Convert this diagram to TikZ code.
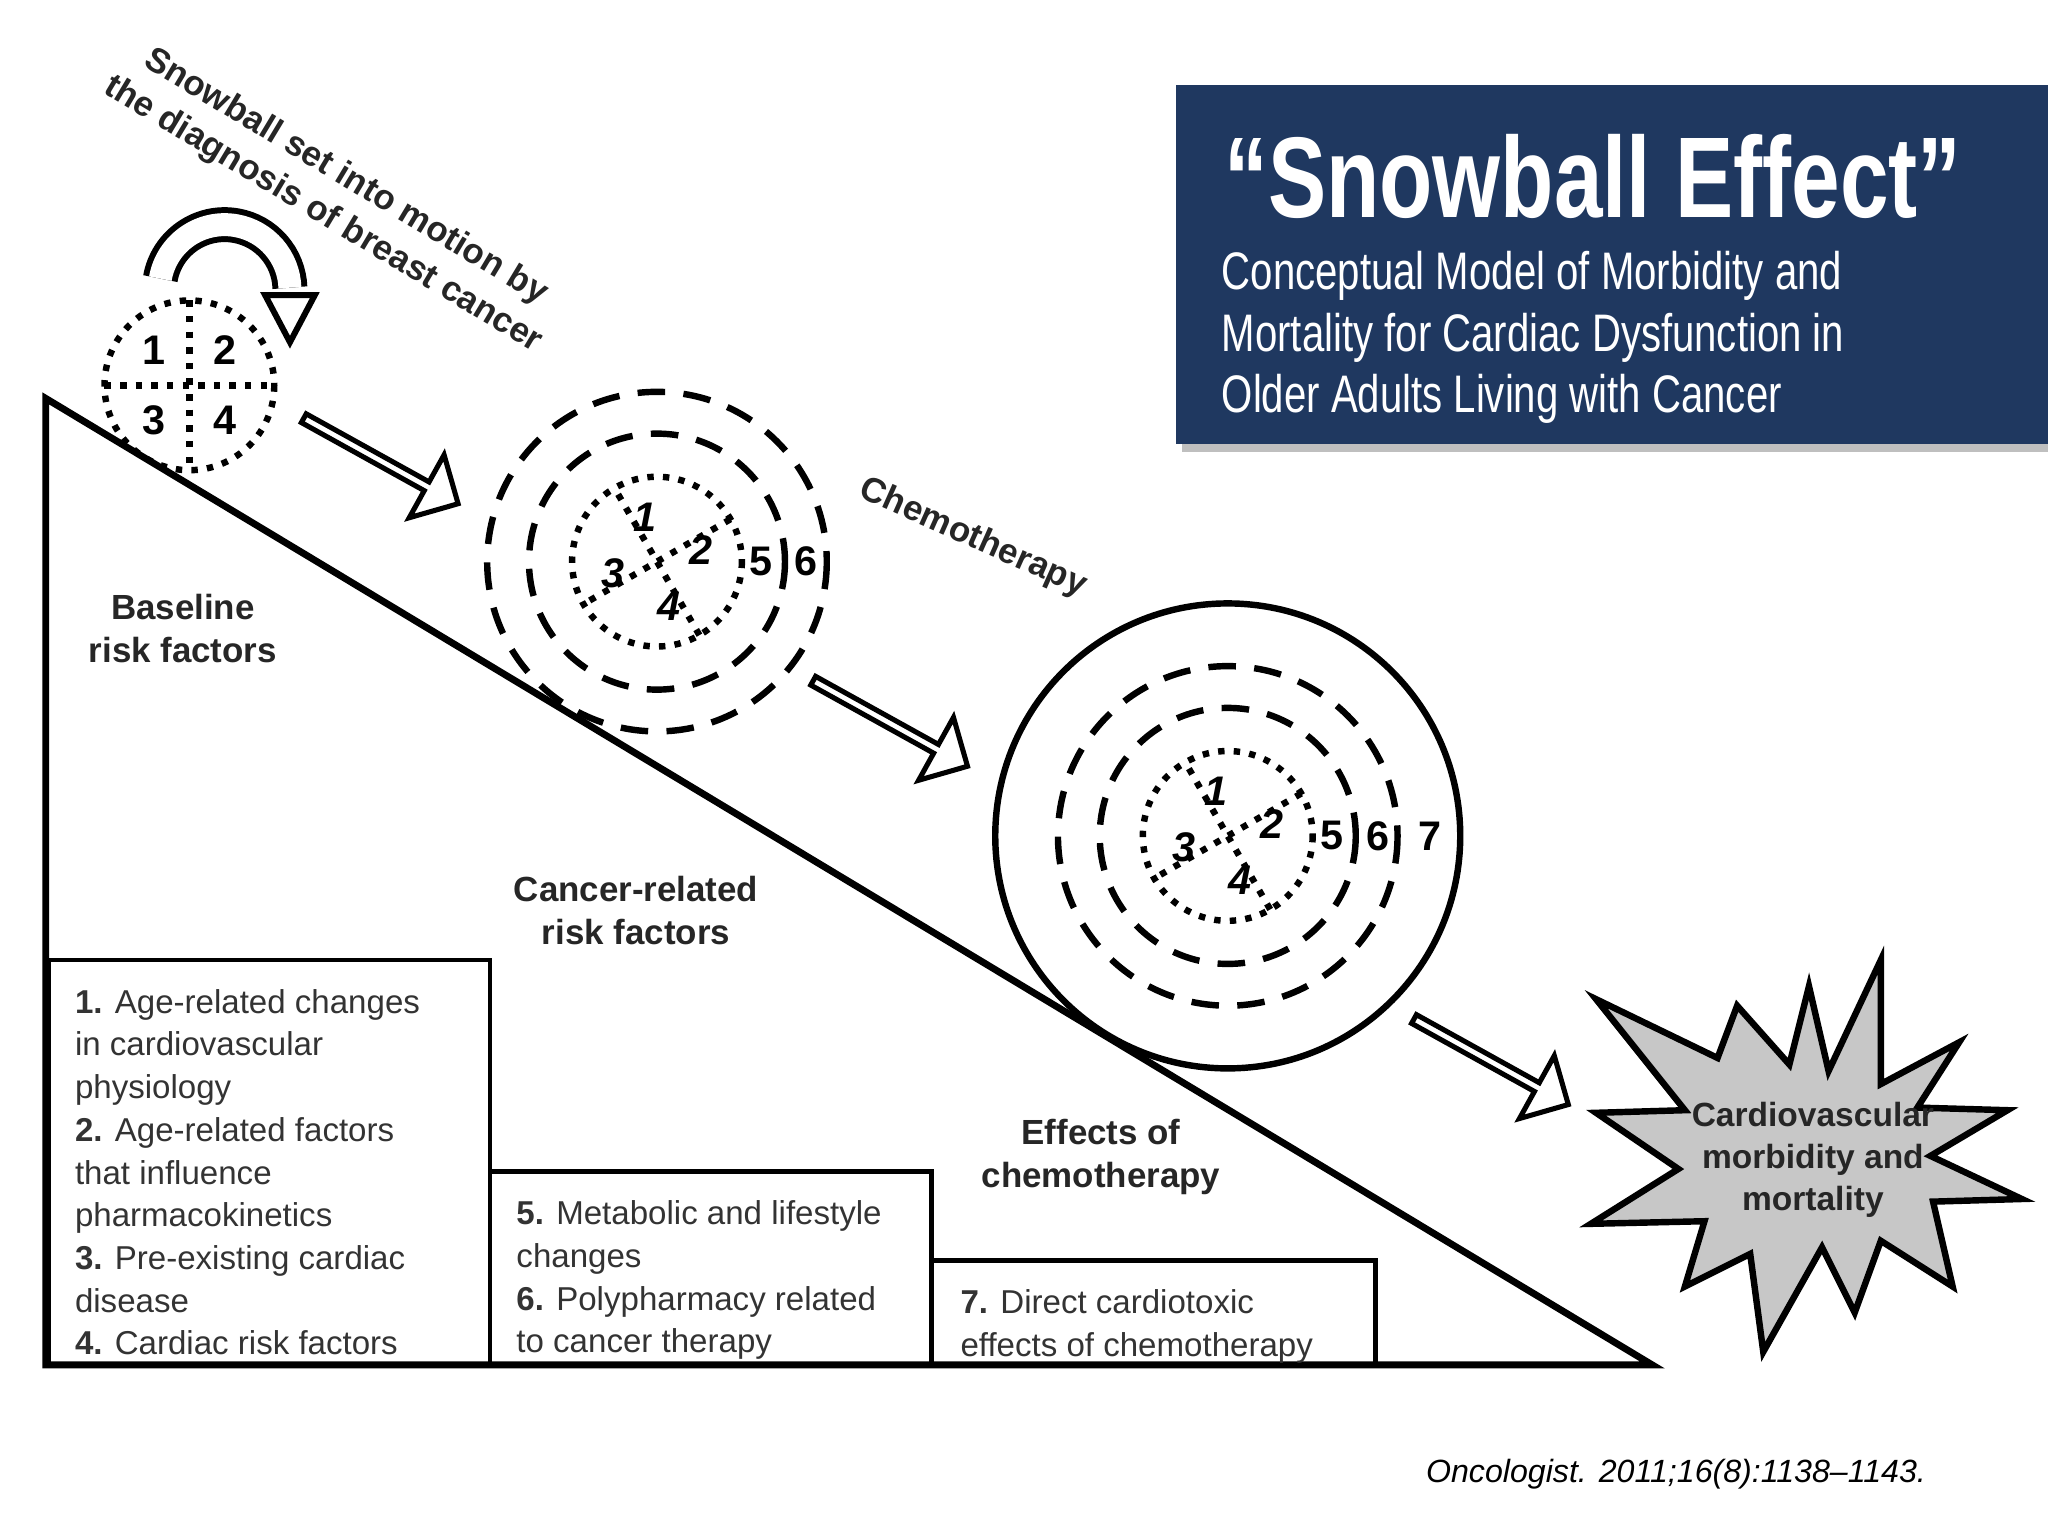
\documentclass[tikz,border=0pt]{standalone}
\usepackage{fontspec}
\setmainfont{Liberation Sans}
\newfontfamily\narrowfont{Liberation Sans}[FakeStretch=0.76]
\usetikzlibrary{shapes.arrows,calc}
\definecolor{titleblue}{RGB}{31,56,96}
\tikzset{
    ball/.style={line width=1.4pt},
    dashball/.style={line width=1.4pt,dash pattern=on 6pt off 4pt},
    dotball/.style={line width=1.4pt,dotted},
    num/.style={font=\fontsize{9}{9}\selectfont\bfseries},
    hollow/.style={single arrow,draw,line width=1.1pt,fill=white,minimum height=1.35cm,
        minimum width=0.55cm,single arrow head extend=0.12cm,inner sep=0pt},
    riskbox/.style={draw,line width=1pt},
    boxtext/.style={align=left,anchor=north west,font=\fontsize{7.2}{9.3}\selectfont,text=black!80},
    label/.style={align=center,font=\fontsize{7.6}{9.4}\selectfont\bfseries,text=black!85},
}
\begin{document}
\begin{tikzpicture}[x=0.01cm,y=-0.01cm]
\useasboundingbox (0,0) rectangle (1568,1176);

% slope and boxes
\draw[line width=1.5pt] (35,305) coordinate (top) -- (35,1045) coordinate (bl) -- (1265,1045) coordinate (br) -- cycle;
\draw[riskbox] (37,735) rectangle (375,1045);
\draw[riskbox] (375,897) rectangle (713,1045);
\draw[riskbox] (713,965) rectangle (1053,1045);
\node[boxtext] (t1) at (45,745) {\textbf{1.} Age-related changes\\in cardiovascular\\physiology\\\textbf{2.} Age-related factors\\that influence\\pharmacokinetics\\\textbf{3.} Pre-existing cardiac\\disease\\\textbf{4.} Cardiac risk factors};
\node[boxtext] (t2) at (383,907) {\textbf{5.} Metabolic and lifestyle\\changes\\\textbf{6.} Polypharmacy related\\to cancer therapy};
\node[boxtext] (t3) at (723,975) {\textbf{7.} Direct cardiotoxic\\effects of chemotherapy};

\node[label] (base) at (140,481) {Baseline\\risk factors};
\node[label] (canc) at (487,697) {Cancer-related\\risk factors};
\node[label] (eff) at (843,886) {Effects of\\chemotherapy};

% first snowball
\coordinate (b1) at (145,295);
\draw[dotball] (b1) circle[radius=65];
\draw[dotball] ($(b1)+(-65,0)$) -- ($(b1)+(65,0)$);
\draw[dotball] ($(b1)+(0,-65)$) -- ($(b1)+(0,65)$);
\node[num] at ($(b1)+(-27,-27)$) {1};
\node[num] at ($(b1)+(27,-27)$) {2};
\node[num] at ($(b1)+(-27,27)$) {3};
\node[num] at ($(b1)+(27,27)$) {4};

% curved arrow
\draw[line width=1.3pt,double=white,double distance=5pt] (172,222) ++(190:50) arc[start angle=190,end angle=358,radius=50];
\draw[line width=1.3pt,fill=white] (203,226) -- (241,226) -- (222,262) -- cycle;

% second snowball
\coordinate (b2) at (503,430);
\draw[dashball] (b2) circle[radius=130];
\draw[dashball] (b2) circle[radius=98];
\draw[dotball] (b2) circle[radius=65];
\draw[dotball] ($(b2)+(-30:65)$) -- ($(b2)+(150:65)$);
\draw[dotball] ($(b2)+(60:65)$) -- ($(b2)+(240:65)$);
\foreach \n/\a in {1/-105,2/-15,3/165,4/75}
    \node[num,font=\fontsize{9}{9}\selectfont\bfseries\itshape] at ($(b2)+(\a:35)$) {\n};
\node[num] at (583,430) {5};
\node[num] at (617,430) {6};

% third snowball
\coordinate (b3) at (940,640);
\draw[ball] (b3) circle[radius=178];
\draw[dashball] (b3) circle[radius=130];
\draw[dashball] (b3) circle[radius=98];
\draw[dotball] (b3) circle[radius=65];
\draw[dotball] ($(b3)+(-30:65)$) -- ($(b3)+(150:65)$);
\draw[dotball] ($(b3)+(60:65)$) -- ($(b3)+(240:65)$);
\foreach \n/\a in {1/-105,2/-15,3/165,4/75}
    \node[num,font=\fontsize{9}{9}\selectfont\bfseries\itshape] at ($(b3)+(\a:35)$) {\n};
\node[num] at (1020,640) {5};
\node[num] at (1055,640) {6};
\node[num] at (1095,640) {7};

% hollow arrows
\node[hollow,rotate=-29] (a1) at (290,352) {};
\node[hollow,rotate=-29] (a2) at (680,553) {};
\node[hollow,rotate=-29] (a3) at (1140,812) {};

% starburst
\draw[line width=1.4pt,fill=black!22]
    (1440,735) -- (1440,830) -- (1500,798) -- (1468,848) -- (1537,850) -- (1478,885)
    -- (1548,918) -- (1480,920) -- (1495,985) -- (1440,950) -- (1420,1005) -- (1395,955)
    -- (1350,1035) -- (1340,960) -- (1290,985) -- (1305,935) -- (1218,937) -- (1285,895)
    -- (1222,852) -- (1290,850) -- (1222,765) -- (1315,810) -- (1330,770) -- (1370,815)
    -- (1385,755) -- (1400,820) -- cycle;
\node[label,font=\fontsize{7.3}{9.2}\selectfont\bfseries] (cvd) at (1388,888) {Cardiovascular\\morbidity and\\mortality};

% rotated texts
\node[font=\fontsize{7.6}{9.6}\selectfont\bfseries,text=black!85,rotate=-31,align=center] (snow) at (256,150) {Snowball set into motion by\\the diagnosis of breast cancer};
\node[font=\fontsize{7.6}{9}\selectfont\bfseries,text=black!85,rotate=-24] (chemo) at (745,412) {Chemotherapy};

% title panel
\fill[black!25] (905,70) rectangle (1568,346);
\fill[titleblue] (900,65) rectangle (1568,340);
\node[anchor=west,text=white,font=\narrowfont\fontsize{25}{25}\selectfont\bfseries] (title) at (925,135) {“Snowball Effect”};
\node[anchor=north west,align=left,text=white,font=\narrowfont\fontsize{11.5}{13.4}\selectfont] (sub) at (923,180) {Conceptual Model of Morbidity and\\Mortality for Cardiac Dysfunction in\\Older Adults Living with Cancer};

\node[font=\fontsize{7}{8}\selectfont\itshape,anchor=east] (cite) at (1487,1129) {Oncologist. 2011;16(8):1138–1143.};
\end{tikzpicture}
\end{document}
